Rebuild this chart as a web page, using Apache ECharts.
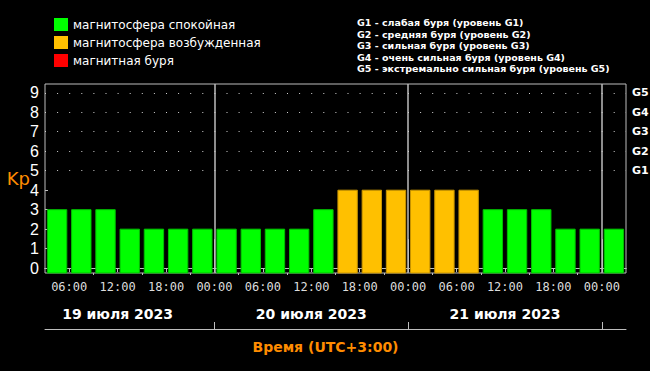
<!DOCTYPE html>
<html><head><meta charset="utf-8">
<script src="https://cdn.jsdelivr.net/npm/echarts@6/dist/echarts.min.js"></script>
<style>html,body{margin:0;padding:0;background:#000}#c{width:650px;height:371px}</style>
</head><body><div id="c"></div>
<script>
// ---- data ----
// Kp index per 3-hour slot, starting 19 July 03:00 (UTC+3)
const kpValues = [3, 3, 3, 2, 2, 2, 2,   2, 2, 2, 2, 3, 4, 4, 4,   4, 4, 4, 3, 3, 3, 2, 2,   2];
// slot-boundary positions on the x axis and their time labels
const timeTickPositions = [1, 3, 5, 7, 9, 11, 13, 15, 17, 19, 21, 23];
const timeTickLabels = ['06:00', '12:00', '18:00', '00:00', '06:00', '12:00', '18:00', '00:00', '06:00', '12:00', '18:00', '00:00'];
const minorTickPositions = [2, 4, 6, 8, 10, 12, 14, 16, 18, 20, 22];
const dayBoundaries = [7, 15, 23];
const dayCenters = [3, 11, 19];
const dayLabels = ['19 июля 2023', '20 июля 2023', '21 июля 2023'];
const kpTickValues = [0, 1, 2, 3, 4, 5, 6, 7, 8, 9];
const gLevelValues = [5, 6, 7, 8, 9];
const gLevelLabels = ['G1', 'G2', 'G3', 'G4', 'G5'];
const legendNames = ['магнитосфера спокойная', 'магнитосфера возбужденная', 'магнитная буря'];
const gLegendLines = [
  'G1 - слабая буря (уровень G1)',
  'G2 - средняя буря (уровень G2)',
  'G3 - сильная буря (уровень G3)',
  'G4 - очень сильная буря (уровень G4)',
  'G5 - экстремально сильная буря (уровень G5)'
];
const axisTitle = 'Время (UTC+3:00)';
const yName = 'Kp';

// ---- styling ----
const Y_MIN = -0.25, Y_MAX = 9.45;
const classColors = [
  {fill: '#00ff00', stroke: '#00c000'},
  {fill: '#ffc000', stroke: '#c89400'},
  {fill: '#ff0000', stroke: '#c00000'}
];
function kpClass(v) { return v >= 5 ? 2 : (v >= 4 ? 1 : 0); }

function makeRender(ci) {
  return function (params, api) {
    const x = api.value(0), v = api.value(1);
    const top = api.coord([x, v]);
    const base = api.coord([x, Y_MIN]);
    const w = api.size([1, 0])[0] * 0.8;
    return {
      type: 'rect',
      shape: {x: top[0] - w / 2, y: top[1], width: w, height: base[1] - top[1]},
      style: {fill: classColors[ci].fill, stroke: classColors[ci].stroke, lineWidth: 1}
    };
  };
}

const barSeries = legendNames.map(function (name, ci) {
  const data = [];
  kpValues.forEach(function (v, i) { if (kpClass(v) === ci) data.push([i + 0.5, v]); });
  return {
    type: 'custom', name: name, renderItem: makeRender(ci), data: data,
    itemStyle: {color: classColors[ci].fill}, xAxisIndex: 0, yAxisIndex: 0, z: 3
  };
});

const markSeries = {
  type: 'line', data: [], xAxisIndex: 0, yAxisIndex: 0, silent: true, z: 5,
  markLine: {
    symbol: 'none', silent: true, animation: false,
    label: {show: false},
    data: dayBoundaries.map(function (b) {
      return {xAxis: b, lineStyle: {color: '#bdbdbd', width: 1.5, type: 'solid'}};
    }).concat(gLevelValues.map(function (g) {
      return {yAxis: g, lineStyle: {color: '#cfcfcf', width: 1, type: [1, 11.1]}};
    }))
  }
};

const chart = echarts.init(document.getElementById('c'), null, {renderer: 'svg'});
const baseX = {type: 'value', min: 0, max: 24, position: 'bottom', splitLine: {show: false}};
chart.setOption({
  backgroundColor: '#000',
  animation: false,
  textStyle: {fontFamily: 'DejaVu Sans'},
  grid: {left: 45, right: 24, top: 84, bottom: 98, outerBoundsMode: 'none', containLabel: false,
    show: true, borderColor: '#bdbdbd', borderWidth: 1, backgroundColor: 'transparent'},
  legend: {
    data: legendNames, orient: 'vertical', left: 54, top: 18, padding: 0,
    itemWidth: 14, itemHeight: 13, itemGap: 5, icon: 'rect', selectedMode: false,
    textStyle: {color: '#fff', fontSize: 12, fontFamily: 'DejaVu Sans'}
  },
  xAxis: [
    Object.assign({}, baseX, {
      axisLine: {lineStyle: {color: '#bdbdbd', width: 1}},
      axisTick: {customValues: timeTickPositions, length: 4, lineStyle: {color: '#bdbdbd'}},
      axisLabel: {customValues: timeTickPositions, color: '#dddddd', fontFamily: 'DejaVu Sans Mono', fontSize: 12, margin: 8,
        formatter: function (v) { const i = timeTickPositions.indexOf(v); return i >= 0 ? timeTickLabels[i] : ''; }}
    }),
    Object.assign({}, baseX, {
      offset: 29,
      axisLine: {lineStyle: {color: '#bdbdbd', width: 1}},
      axisTick: {customValues: dayBoundaries, inside: true, length: 29, lineStyle: {color: '#bdbdbd', width: 1}},
      axisLabel: {customValues: dayCenters, color: '#fff', fontWeight: 'bold', fontSize: 14, fontFamily: 'DejaVu Sans', margin: 5,
        formatter: function (v) { const i = dayCenters.indexOf(v); return i >= 0 ? dayLabels[i] : ''; }}
    }),
    Object.assign({}, baseX, {
      offset: 56,
      axisLine: {lineStyle: {color: '#bdbdbd', width: 1}},
      axisTick: {customValues: dayBoundaries, inside: true, length: 7, lineStyle: {color: '#bdbdbd'}},
      axisLabel: {show: false},
      name: axisTitle, nameLocation: 'middle', nameGap: 11, nameMoveOverlap: false,
      nameTextStyle: {color: '#ff8c00', fontWeight: 'bold', fontSize: 14, fontFamily: 'DejaVu Sans', padding: [0, 20, 0, 0]}
    }),
    Object.assign({}, baseX, {
      axisLine: {show: false},
      axisTick: {customValues: minorTickPositions, length: 2, lineStyle: {color: '#bdbdbd'}},
      axisLabel: {show: false}
    })
  ],
  yAxis: [
    {
      type: 'value', min: Y_MIN, max: Y_MAX, position: 'left',
      axisLine: {show: false}, axisTick: {show: false}, splitLine: {show: false},
      axisLabel: {customValues: kpTickValues, color: '#fff', fontSize: 16, fontFamily: 'Liberation Sans', margin: 6,
        formatter: function (v) { return String(v); }},
      name: yName, nameLocation: 'middle', nameRotate: 0, nameGap: 15, nameMoveOverlap: false,
      nameTextStyle: {color: '#ff8c00', fontSize: 18, fontFamily: 'DejaVu Sans', align: 'right', padding: [0, 0, 13, 0]}
    },
    {
      type: 'value', min: Y_MIN, max: Y_MAX, position: 'right',
      axisLine: {show: false}, splitLine: {show: false},
      axisTick: {customValues: [0, 1, 2, 3, 4], length: 3, lineStyle: {color: '#bdbdbd'}},
      axisLabel: {customValues: gLevelValues, color: '#fff', fontSize: 11, fontWeight: 'bold', fontFamily: 'DejaVu Sans', margin: 6,
        formatter: function (v) { const i = gLevelValues.indexOf(v); return i >= 0 ? gLevelLabels[i] : ''; }}
    }
  ],
  graphic: [{
    type: 'text', left: 357, top: 17,
    style: {text: gLegendLines.join('\n'), fill: '#fff', font: 'bold 9.5px "DejaVu Sans"', lineHeight: 11.5}
  }],
  series: barSeries.concat([markSeries])
});
</script>
</body></html>
